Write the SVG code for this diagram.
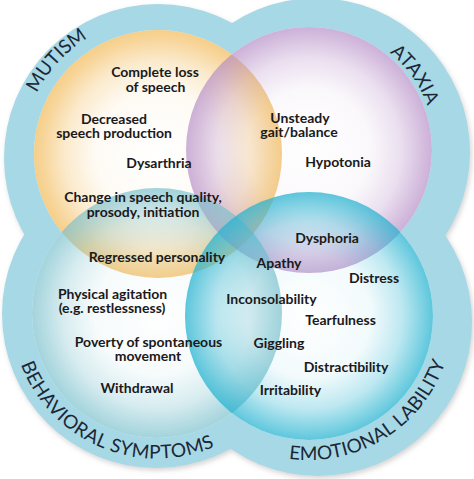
<svg xmlns="http://www.w3.org/2000/svg" width="474" height="479" viewBox="0 0 474 479">
<defs>
<style>
.ring{fill:#a7d8e6}
.back{fill:#ffffff}
.cat{font-family:Lato,"Liberation Sans",sans-serif;font-size:19px;font-weight:400;fill:#1c2735}
.it{font-family:Lato,"Liberation Sans",sans-serif;font-size:14px;font-weight:700;fill:#1a191b;text-anchor:middle}
</style>
<filter id="sh" x="-10%" y="-10%" width="120%" height="120%">
<feDropShadow dx="1.5" dy="2.5" stdDeviation="2.5" flood-color="#8a7f80" flood-opacity="0.35"/>
</filter>
<radialGradient id="gO" cx="50%" cy="50%" r="50%">
<stop offset="0" stop-color="#f2b955" stop-opacity="0"/>
<stop offset="0.5" stop-color="#f2b955" stop-opacity="0.06"/>
<stop offset="0.75" stop-color="#f2b955" stop-opacity="0.3"/>
<stop offset="0.92" stop-color="#f2b955" stop-opacity="0.58"/>
<stop offset="1" stop-color="#f2b955" stop-opacity="0.7"/>
</radialGradient>
<radialGradient id="gP" cx="50%" cy="50%" r="50%">
<stop offset="0" stop-color="#b58cc6" stop-opacity="0"/>
<stop offset="0.5" stop-color="#b58cc6" stop-opacity="0.06"/>
<stop offset="0.75" stop-color="#b58cc6" stop-opacity="0.28"/>
<stop offset="0.92" stop-color="#b58cc6" stop-opacity="0.56"/>
<stop offset="1" stop-color="#b58cc6" stop-opacity="0.68"/>
</radialGradient>
<radialGradient id="gB" cx="50%" cy="50%" r="50%">
<stop offset="0" stop-color="#7cc1cd" stop-opacity="0"/>
<stop offset="0.5" stop-color="#7cc1cd" stop-opacity="0.07"/>
<stop offset="0.75" stop-color="#7cc1cd" stop-opacity="0.3"/>
<stop offset="0.92" stop-color="#7cc1cd" stop-opacity="0.58"/>
<stop offset="1" stop-color="#7cc1cd" stop-opacity="0.7"/>
</radialGradient>
<radialGradient id="gE" cx="50%" cy="50%" r="50%">
<stop offset="0" stop-color="#25b3d0" stop-opacity="0"/>
<stop offset="0.5" stop-color="#25b3d0" stop-opacity="0.06"/>
<stop offset="0.75" stop-color="#25b3d0" stop-opacity="0.3"/>
<stop offset="0.92" stop-color="#25b3d0" stop-opacity="0.6"/>
<stop offset="1" stop-color="#25b3d0" stop-opacity="0.74"/>
</radialGradient>
<path id="pM" d="M28.9,112.8 A135.5,135.5 0 0 1 106.6,28.6"/>
<path id="pA" d="M371.5,40 A126.5,126.5 0 0 1 433.4,127.2"/>
<path id="pB" d="M14.7,343.3 A145.5,145.5 0 0 0 234.1,436.4"/>
<path id="pE" d="M263.3,452.6 A144,144 0 0 0 451.4,337.3"/>
</defs>

<g id="outer-rings" filter="url(#sh)">
<circle class="ring" cx="158" cy="158" r="154"/>
<circle class="ring" cx="316" cy="152" r="154"/>
<circle class="ring" cx="156" cy="314" r="154"/>
<circle class="ring" cx="318" cy="322" r="154"/>
</g>

<g id="inner-backing">
<circle class="back" cx="158" cy="154" r="124"/>
<circle class="back" cx="309" cy="150" r="123"/>
<circle class="back" cx="157" cy="313" r="125"/>
<circle class="back" cx="309" cy="316" r="124"/>
</g>

<g id="mutism">
<circle cx="158" cy="154" r="124" fill="url(#gO)"/>
<text class="cat"><textPath href="#pM" startOffset="50%" text-anchor="middle" textLength="76" lengthAdjust="spacing">MUTISM</textPath></text>
</g>
<g id="ataxia">
<circle cx="309" cy="150" r="123" fill="url(#gP)"/>
<text class="cat"><textPath href="#pA" startOffset="50%" text-anchor="middle" textLength="66" lengthAdjust="spacing">ATAXIA</textPath></text>
</g>
<g id="behavioral-symptoms">
<circle cx="157" cy="313" r="125" fill="url(#gB)"/>
<text class="cat"><textPath href="#pB" startOffset="50%" text-anchor="middle" textLength="235" lengthAdjust="spacing">BEHAVIORAL SYMPTOMS</textPath></text>
</g>
<g id="emotional-lability">
<circle cx="309" cy="316" r="124" fill="url(#gE)"/>
<text class="cat"><textPath href="#pE" startOffset="50%" text-anchor="middle" textLength="199" lengthAdjust="spacing">EMOTIONAL LABILITY</textPath></text>
</g>

<g id="connectors"></g>

<g id="items">
<g id="complete-loss"><text class="it" x="155" y="77">Complete loss</text><text class="it" x="155.5" y="92">of speech</text></g>
<g id="decreased"><text class="it" x="114" y="124">Decreased</text><text class="it" x="114" y="138">speech production</text></g>
<g id="dysarthria"><text class="it" x="159" y="168">Dysarthria</text></g>
<g id="change"><text class="it" x="143" y="202">Change in speech quality,</text><text class="it" x="143" y="217">prosody, initiation</text></g>
<g id="unsteady"><text class="it" x="300" y="123">Unsteady</text><text class="it" x="299" y="137">gait/balance</text></g>
<g id="hypotonia"><text class="it" x="338" y="167">Hypotonia</text></g>
<g id="regressed"><text class="it" x="157" y="262">Regressed personality</text></g>
<g id="agitation"><text class="it" x="112.5" y="299">Physical agitation</text><text class="it" x="112" y="313">(e.g. restlessness)</text></g>
<g id="poverty"><text class="it" x="148.5" y="347">Poverty of spontaneous</text><text class="it" x="148" y="361">movement</text></g>
<g id="withdrawal"><text class="it" x="137" y="393">Withdrawal</text></g>
<g id="dysphoria"><text class="it" x="327" y="243">Dysphoria</text></g>
<g id="apathy"><text class="it" x="279" y="268">Apathy</text></g>
<g id="distress"><text class="it" x="374" y="283">Distress</text></g>
<g id="inconsolability"><text class="it" x="271.5" y="304">Inconsolability</text></g>
<g id="tearfulness"><text class="it" x="340.5" y="325">Tearfulness</text></g>
<g id="giggling"><text class="it" x="279" y="348">Giggling</text></g>
<g id="distractibility"><text class="it" x="346" y="372">Distractibility</text></g>
<g id="irritability"><text class="it" x="290.5" y="395">Irritability</text></g>
</g>
</svg>
